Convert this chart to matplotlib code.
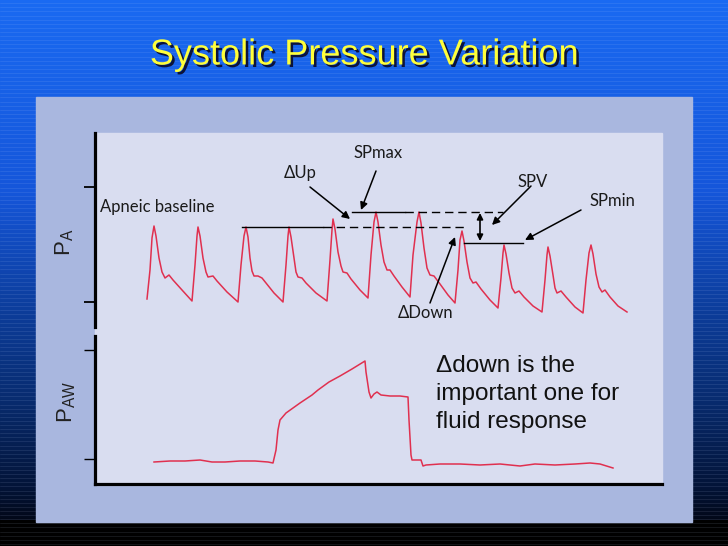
import numpy as np
import matplotlib
matplotlib.use("Agg")
import matplotlib.pyplot as plt
import matplotlib.patheffects as pe
from matplotlib.colors import LinearSegmentedColormap
from matplotlib.patches import Rectangle

# arterial pressure trace (time in s, pressure in mmHg)
t_art = [1.04, 1.10, 1.14, 1.18, 1.22, 1.28, 1.34, 1.40, 1.48, 1.56, 1.74, 1.94,
         2.00, 2.04, 2.06, 2.10, 2.16, 2.22, 2.26, 2.36, 2.44, 2.64, 2.86,
         2.92, 2.98, 3.02, 3.06, 3.10, 3.14, 3.18, 3.26, 3.34, 3.42, 3.58, 3.76,
         3.82, 3.86, 3.88, 3.92, 3.98, 4.02, 4.06, 4.14, 4.22, 4.42, 4.64,
         4.70, 4.74, 4.76, 4.80, 4.86, 4.92, 4.96, 5.04, 5.12, 5.30, 5.46,
         5.52, 5.58, 5.62, 5.66, 5.72, 5.78, 5.84, 5.90, 5.98, 6.14, 6.30,
         6.36, 6.44, 6.48, 6.52, 6.58, 6.64, 6.70, 6.78, 6.90, 7.06, 7.20,
         7.26, 7.30, 7.34, 7.38, 7.44, 7.50, 7.56, 7.62, 7.72, 7.90, 8.06,
         8.12, 8.16, 8.18, 8.22, 8.28, 8.34, 8.40, 8.48, 8.58, 8.76, 8.94,
         9.00, 9.04, 9.06, 9.10, 9.16, 9.20, 9.24, 9.32, 9.42, 9.60, 9.76,
         9.82, 9.88, 9.92, 9.96, 10.02, 10.08, 10.14, 10.20, 10.30, 10.46, 10.64]
p_art = [50.5, 65, 81, 87, 82, 71, 64, 61, 62.5, 60, 55, 49.5,
         67.5, 82, 86.5, 82, 71, 64, 61.5, 62, 59.5, 54, 49,
         67.5, 82, 86.5, 81.5, 71, 64.5, 62, 62, 61, 58.5, 53.5, 49,
         67.5, 82, 86.5, 81.5, 71, 64, 61.5, 61, 58.5, 53.5, 49.5,
         70, 85, 90.5, 85.5, 74, 67, 64, 63.5, 60.5, 55, 51,
         72.5, 89, 94, 89, 77.5, 69, 65, 65, 62, 56.5, 51.5,
         72.5, 89, 94, 88.5, 76, 66, 62.5, 62, 58, 52.5, 48.5,
         65, 80, 84.5, 79.5, 69, 61, 58.5, 59, 55.5, 50, 46,
         61, 73.5, 77.5, 73, 63.5, 56, 53.5, 54.5, 51.5, 47, 44,
         60, 72.5, 76.5, 72, 62.5, 56, 53.5, 54.5, 51.5, 46.5, 43.5,
         60, 73.5, 77.5, 73, 63, 56.5, 54, 55, 51.5, 47, 44]

# airway pressure trace (cmH2O)
t_aw = [1.18, 1.50, 1.80, 2.10, 2.34, 2.60, 2.90, 3.20, 3.46, 3.56, 3.62, 3.66,
        3.70, 3.82, 4.10, 4.34, 4.46, 4.68, 4.90, 5.14, 5.40, 5.42, 5.48, 5.52,
        5.58, 5.64, 5.72, 5.90, 6.10, 6.26, 6.28, 6.32, 6.34, 6.52, 6.56, 6.62,
        6.90, 7.30, 7.70, 8.10, 8.50, 8.80, 9.20, 9.60, 9.90, 10.10, 10.36]
p_aw = [-0.75, -0.5, -0.5, -0.25, -0.75, -0.75, -0.5, -0.5, -0.75, -1.0, 2.25, 7.25,
        9.75, 11.5, 14.0, 16.0, 17.25, 19.25, 20.75, 22.5, 24.5, 21.75, 16.75, 15.25,
        16.25, 16.75, 16.0, 15.75, 15.75, 15.5, 9.75, 1.0, -0.25, -0.25, -1.75, -1.5,
        -1.25, -1.25, -1.5, -1.25, -1.75, -1.25, -1.5, -1.25, -1.0, -1.25, -2.25]

# reference levels
apneic_level = 86.5
spmax_level = 94
spmin_level = 78.5

red = "#e0304f"
panel_col = "#a9b7df"
inner_col = "#d9ddf0"

fig = plt.figure(figsize=(7.28, 5.46), dpi=100)

# slide background
bg = fig.add_axes([0, 0, 1, 1], zorder=-10)
cmap = LinearSegmentedColormap.from_list("slide", [
    (0.0, "#1a6af2"), (0.35, "#1556da"), (0.55, "#0d3fa0"), (0.73, "#082c70"),
    (0.9, "#031336"), (0.955, "#020818"), (0.956, "#000000"), (1.0, "#000000")])
bg.imshow(np.linspace(0, 1, 546).reshape(-1, 1), cmap=cmap, aspect="auto",
          extent=[0, 1, 0, 1], origin="upper")
for yy in np.arange(0.004, 1, 0.0075):
    bg.axhline(yy, color="#c8d8ff", lw=0.4, alpha=0.18)
bg.set_xlim(0, 1)
bg.set_ylim(0, 1)
bg.axis("off")

fig.patches.append(Rectangle((36 / 728, 1 - 522 / 546), 656 / 728, 425 / 546,
                             transform=fig.transFigure, color=panel_col, zorder=-5))
fig.patches.append(Rectangle((95 / 728, 1 - 485 / 546), 567 / 728, 352 / 546,
                             transform=fig.transFigure, color=inner_col, zorder=-4))

fig.text(364 / 728, 1 - 55 / 546, "Systolic Pressure Variation", ha="center", va="center",
         fontsize=26, family="Liberation Sans", color="#ffff3a",
         path_effects=[pe.withSimplePatchShadow(offset=(1.8, -1.8), shadow_rgbFace="#0a0a28", alpha=0.9)])

# upper panel: arterial pressure
ax1 = fig.add_axes([95 / 728, 1 - 327 / 546, 567 / 728, 194 / 546])
ax1.patch.set_alpha(0)
ax1.plot(t_art, p_art, color=red, lw=1.1)
ax1.set_xlim(0, 11.34)
ax1.set_ylim(36.5, 133.5)
for s in ["top", "right", "bottom"]:
    ax1.spines[s].set_visible(False)
ax1.spines["left"].set_linewidth(2.3)
ax1.set_xticks([])
ax1.set_yticks([49, 106.5])
ax1.set_yticklabels([])
ax1.tick_params(axis="y", direction="out", length=8, width=1.3)

lbl = dict(family=["Lato", "DejaVu Sans"], fontsize=12, color="#1a1a1a", va="center")
ax1.plot([2.94, 4.56], [apneic_level] * 2, color="k", lw=1.0)
ax1.plot([4.56, 7.46], [apneic_level] * 2, color="k", lw=1.0, ls=(0, (6, 3.5)))
ax1.plot([5.14, 6.20], [spmax_level] * 2, color="k", lw=1.0)
ax1.plot([6.20, 8.16], [spmax_level] * 2, color="k", lw=1.0, ls=(0, (6, 3.5)))
ax1.plot([7.38, 8.56], [spmin_level] * 2, color="k", lw=1.0)
ax1.annotate("", xy=(7.70, 79.5), xytext=(7.70, 93.5),
             arrowprops=dict(arrowstyle="<|-|>", color="k", lw=1.2, mutation_scale=9,
                             shrinkA=0, shrinkB=0))

ax1.text(0.10, 96.5, "Apneic baseline", **lbl)
ax1.text(3.78, 113.5, "\u0394Up", **lbl)
ax1.text(5.16, 123.5, "SPmax", **lbl)
ax1.text(8.44, 109, "SPV", **lbl)
ax1.text(9.90, 99.5, "SPmin", **lbl)
ax1.text(6.06, 43.5, "\u0394Down", **lbl)

arrow = dict(arrowstyle="-|>", color="k", lw=1.1, mutation_scale=11, shrinkA=0, shrinkB=0)
ax1.annotate("", xy=(5.10, 90.5), xytext=(4.30, 106.5), arrowprops=arrow)
ax1.annotate("", xy=(5.32, 95), xytext=(5.62, 114.5), arrowprops=arrow)
ax1.annotate("", xy=(7.94, 87.5), xytext=(8.72, 107), arrowprops=arrow)
ax1.annotate("", xy=(8.60, 80), xytext=(9.72, 95), arrowprops=arrow)
ax1.annotate("", xy=(7.20, 81.5), xytext=(6.70, 48.5), arrowprops=arrow)

# lower panel: airway pressure
ax2 = fig.add_axes([95 / 728, 1 - 484 / 546, 567 / 728, 148 / 546])
ax2.patch.set_alpha(0)
ax2.plot(t_aw, p_aw, color=red, lw=1.1)
ax2.set_xlim(0, 11.34)
ax2.set_ylim(-6.25, 30.75)
for s in ["top", "right"]:
    ax2.spines[s].set_visible(False)
ax2.spines["left"].set_linewidth(2.3)
ax2.spines["bottom"].set_linewidth(2.3)
ax2.set_xticks([])
ax2.set_yticks([0, 27.25])
ax2.set_yticklabels([])
ax2.tick_params(axis="y", direction="out", length=8, width=1.0)

ax2.text(6.82, 16.2, "\u0394down is the\nimportant one for\nfluid response", ha="left", va="center",
         family="Liberation Sans", fontsize=17.5, color="#111111", linespacing=1.36)

fig.text(65 / 728, 1 - 242 / 546, r"$\mathregular{P_A}$", rotation=90, ha="center", va="center",
         fontsize=16, family="Liberation Sans", color="#222222")
fig.text(67 / 728, 1 - 402 / 546, r"$\mathregular{P_{AW}}$", rotation=90, ha="center", va="center",
         fontsize=16, family="Liberation Sans", color="#222222")

fig.savefig("out.png", dpi=100)
